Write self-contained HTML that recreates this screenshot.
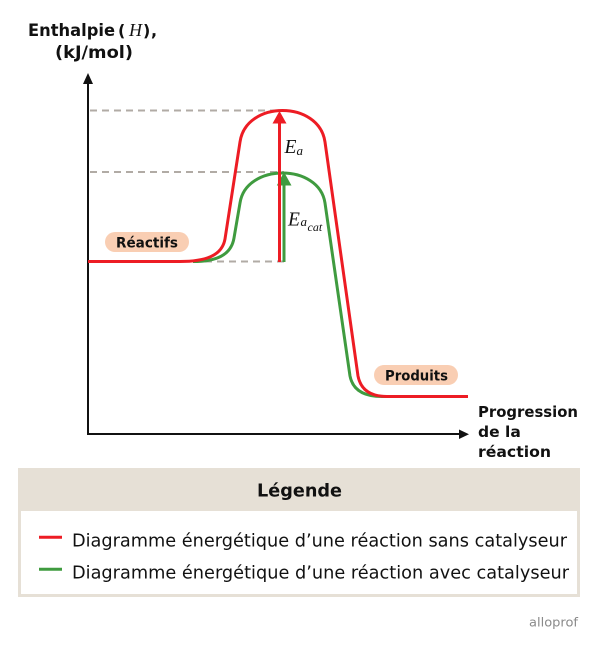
<!DOCTYPE html>
<html>
<head>
<meta charset="utf-8">
<style>
  html, body { margin:0; padding:0; background:#ffffff; }
  svg { display:block; }
  .b { font-family: "DejaVu Sans", "Liberation Sans", sans-serif; font-weight:bold; fill:#111; }
  .r { font-family: "DejaVu Sans", "Liberation Sans", sans-serif; fill:#111; }
  .m { font-family: "Liberation Serif", "DejaVu Serif", serif; font-style:italic; fill:#111; }
</style>
</head>
<body>
<svg width="600" height="646" viewBox="0 0 600 646" xmlns="http://www.w3.org/2000/svg">
  <rect x="0" y="0" width="600" height="646" fill="#ffffff"/>

  <!-- Y axis title -->
  <text class="b" x="28" y="36" font-size="16.5" textLength="87" lengthAdjust="spacingAndGlyphs">Enthalpie</text>
  <text class="b" x="118" y="36" font-size="16">(</text>
  <text class="m" x="129" y="36" font-size="18">H</text>
  <text class="b" x="143" y="36" font-size="16">)</text>
  <text class="b" x="151" y="36" font-size="16">,</text>
  <text class="b" x="55" y="58" font-size="16.5" textLength="78" lengthAdjust="spacingAndGlyphs">(kJ/mol)</text>

  <!-- Dashed guide lines -->
  <g stroke="#b1aba5" stroke-width="2" stroke-dasharray="7 5" fill="none">
    <line x1="90" y1="110.5" x2="280" y2="110.5"/>
    <line x1="90" y1="172" x2="284" y2="172"/>
    <line x1="193" y1="261.5" x2="284" y2="261.5"/>
  </g>

  <!-- Axes -->
  <g stroke="#111" stroke-width="2" fill="none">
    <line x1="88" y1="435" x2="88" y2="82"/>
    <line x1="87" y1="434" x2="460" y2="434"/>
  </g>
  <polygon points="83,84 93,84 88,73" fill="#111"/>
  <polygon points="459,429.5 459,439 469,434.2" fill="#111"/>

  <!-- Labels pills -->
  <rect x="105" y="232" width="84" height="20" rx="10" fill="#f9ceb3"/>
  <text class="b" x="116" y="247.5" font-size="14.5" textLength="62" lengthAdjust="spacingAndGlyphs">Réactifs</text>
  <rect x="374" y="365" width="84" height="20" rx="10" fill="#f9ceb3"/>
  <text class="b" x="385" y="380.5" font-size="14.5" textLength="63" lengthAdjust="spacingAndGlyphs">Produits</text>

  <!-- Green curve (with catalyst) -->
  <path d="M193,261.5 C215,261.5 231,256 234,238 L240,203 C246,163 319,163 325,203 L350,376 Q354,396.5 382,396.5 L390,396.5"
        fill="none" stroke="#3f9b3f" stroke-width="3" stroke-linejoin="round"/>

  <!-- Red curve (without catalyst) -->
  <path d="M88,261.5 L180,261.5 C205,261.5 222,256 225,239 L240,142 C246,100 319,100 325,142 L358,376 Q362,396.5 387,396.5 L468,396.5"
        fill="none" stroke="#ed1c24" stroke-width="3" stroke-linejoin="round"/>

  <!-- Green arrow -->
  <line x1="284" y1="262" x2="284" y2="184" stroke="#3f9b3f" stroke-width="3"/>
  <polygon points="276.8,185.5 291.5,185.5 284,172" fill="#3f9b3f"/>

  <!-- Red arrow -->
  <line x1="279.5" y1="262" x2="279.5" y2="122" stroke="#ed1c24" stroke-width="3"/>
  <polygon points="272.5,123.5 286.5,123.5 279.5,111" fill="#ed1c24"/>

  <!-- Ea labels -->
  <text class="m" x="284.5" y="153" font-size="19.5">E</text>
  <text class="m" x="296.5" y="155" font-size="13">a</text>
  <text class="m" x="288" y="225.5" font-size="19.5">E</text>
  <text class="m" x="300.5" y="226" font-size="13">a</text>
  <text class="m" x="307.5" y="231" font-size="12">cat</text>

  <!-- X axis title -->
  <text class="b" x="478" y="417" font-size="15.5" textLength="100" lengthAdjust="spacingAndGlyphs">Progression</text>
  <text class="b" x="478" y="437" font-size="15.5">de la</text>
  <text class="b" x="478" y="457" font-size="15.5" textLength="73" lengthAdjust="spacingAndGlyphs">réaction</text>

  <!-- Legend -->
  <rect x="19.5" y="469.5" width="559" height="126" fill="#ffffff" stroke="#e6e0d6" stroke-width="3"/>
  <rect x="18" y="468" width="562" height="43" fill="#e6e0d6"/>
  <text class="b" x="299.5" y="496.5" font-size="18" text-anchor="middle" textLength="85" lengthAdjust="spacingAndGlyphs">Légende</text>

  <line x1="39" y1="537.3" x2="62" y2="537.3" stroke="#ed1c24" stroke-width="3"/>
  <text class="r" x="72" y="546.5" font-size="17.5" textLength="495" lengthAdjust="spacingAndGlyphs">Diagramme énergétique d’une réaction sans catalyseur</text>
  <line x1="39" y1="569.3" x2="62" y2="569.3" stroke="#3f9b3f" stroke-width="3"/>
  <text class="r" x="72" y="578.5" font-size="17.5" textLength="497" lengthAdjust="spacingAndGlyphs">Diagramme énergétique d’une réaction avec catalyseur</text>

  <!-- Brand -->
  <text class="r" x="578" y="626.5" font-size="12" text-anchor="end" fill="#8a8a8a" style="fill:#8a8a8a" textLength="49" lengthAdjust="spacingAndGlyphs">alloprof</text>
</svg>
</body>
</html>
